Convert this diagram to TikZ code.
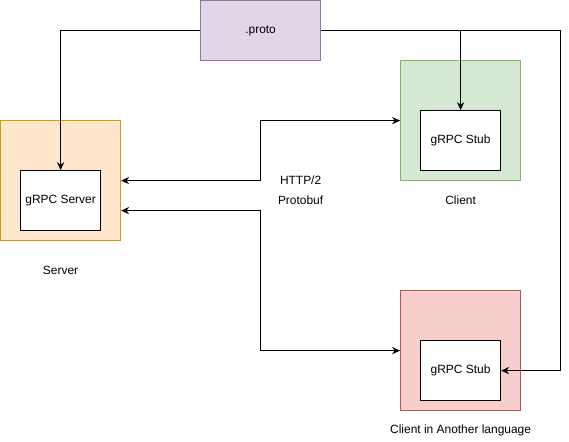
\documentclass[tikz,border=0pt]{standalone}
\usepackage{fontspec}
\setmainfont{Liberation Sans}
\usetikzlibrary{arrows.meta,positioning}

\definecolor{protofill}{HTML}{E1D5E7}
\definecolor{protoline}{HTML}{9673A6}
\definecolor{serverfill}{HTML}{FFE6CC}
\definecolor{serverline}{HTML}{D79B00}
\definecolor{clientfill}{HTML}{D5E8D4}
\definecolor{clientline}{HTML}{82B366}
\definecolor{otherfill}{HTML}{F8CECC}
\definecolor{otherline}{HTML}{B85450}

\tikzset{
  outerbox/.style={draw, rectangle, minimum width=3cm, minimum height=3cm, inner sep=0pt},
  innerbox/.style={draw, rectangle, fill=white, minimum width=2cm, minimum height=1.5cm, inner sep=0pt},
}

\begin{document}
\begin{tikzpicture}[x=0.025cm, y=-0.025cm, line width=0.7pt,
    >={Stealth[length=2mm, width=1.8mm]}, font=\fontsize{8.5}{10}\selectfont]
        \useasboundingbox (-0.6,-0.6) rectangle (568.4,440.4);

        % Nodes
        \node (proto) [draw=protoline, fill=protofill, rectangle, minimum width=3cm, minimum height=1.5cm, inner sep=0pt] at (260,30) {.proto};
        \node (serverbox) [outerbox, draw=serverline, fill=serverfill] at (60,180) {};
        \node (server) [innerbox] at (60,200) {gRPC Server};
        \node (serverlabel) at (60,270) {Server};
        \node (clientbox) [outerbox, draw=clientline, fill=clientfill] at (460,120) {};
        \node (stub) [innerbox] at (460,140) {gRPC Stub};
        \node (clientlabel) at (460,200) {Client};
        \node (otherbox) [outerbox, draw=otherline, fill=otherfill] at (460,350) {};
        \node (otherstub) [innerbox] at (460,370) {gRPC Stub};
        \node (otherlabel) at (460,430) {Client in Another language};
        \node (http) at (300,180) {HTTP/2};
        \node (protobuf) at (300,200) {Protobuf};

        \coordinate (turn) at (560,30);
        \coordinate (upper) at (260,180);
        \coordinate (lower) at (260,210);

        % Edges
        \draw[->] (proto.west) -| (server.north);
        \draw[->] (stub.north |- proto.east) -- (stub.north);
        \draw[->] (proto.east) -- (turn) |- (otherstub.east);
        \draw[<->] (serverbox.east) -- (upper) |- (clientbox.west);
        \draw[<->] (serverbox.east |- lower) -- (lower) |- (otherbox.west);
    \end{tikzpicture}
\end{document}
